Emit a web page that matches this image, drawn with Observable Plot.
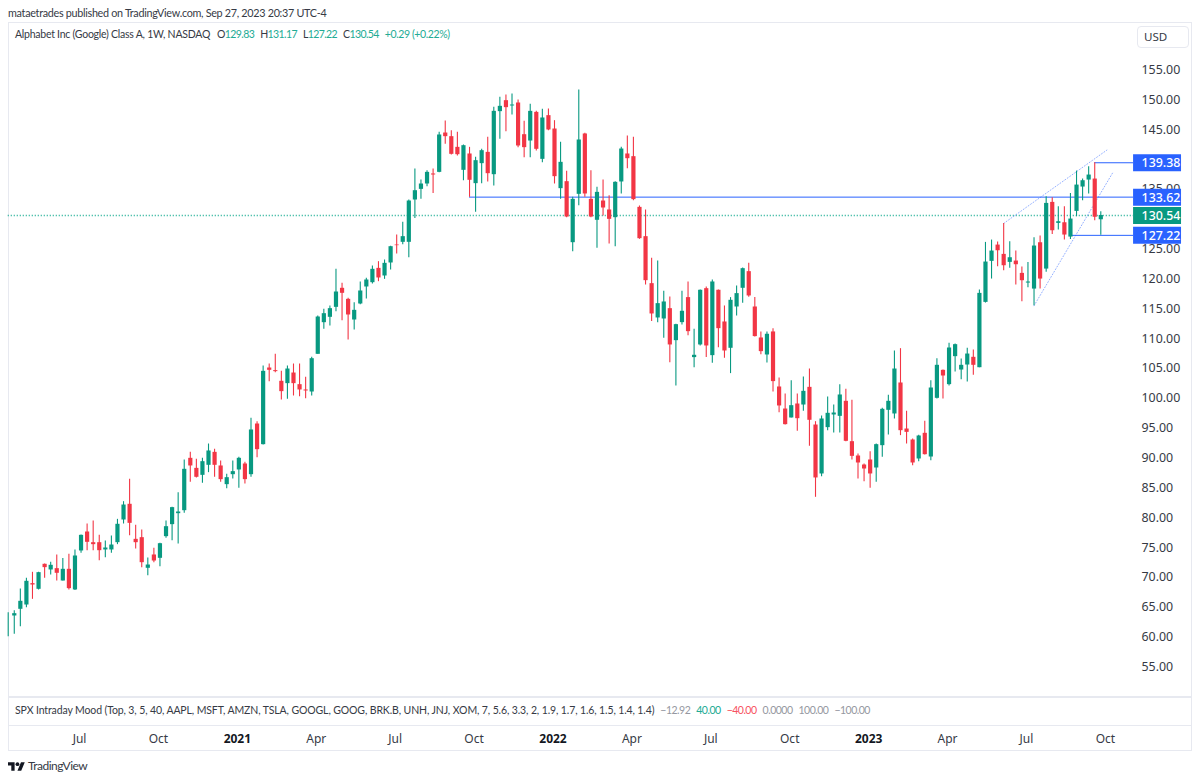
<!DOCTYPE html>
<html><head><meta charset="utf-8">
<script src="https://cdn.jsdelivr.net/npm/d3@7"></script>
<script src="https://cdn.jsdelivr.net/npm/@observablehq/plot@0.6"></script>
<style>
html,body{margin:0;padding:0;background:#fff;width:1200px;height:781px;overflow:hidden;font-family:"Lato",sans-serif;color:#131722}
#head{height:22px;line-height:26px;padding-left:8px;font-size:10.8px;letter-spacing:-.3px;color:#363a45;white-space:nowrap}
#stage{position:relative;height:729px}
#stage svg{position:absolute;left:0;top:0}
.ln{position:absolute;background:#E7E9F0}
.lg{position:absolute;left:15px;font-size:10.5px;color:#363a45;white-space:nowrap;z-index:2}
.lg i{font-style:normal;color:#22AB94}
#lg1{letter-spacing:-.25px}
#lg1 span{margin-left:6px;letter-spacing:-.6px}
#lg1 span:first-child{margin-left:7px}
#lg1 span:last-child{letter-spacing:-.4px}
#lg2{letter-spacing:-.12px}
#lg2 span{margin-left:6px;letter-spacing:-.5px}
#usd{position:absolute;left:1137px;top:4px;width:50px;height:20px;border:1px solid #E7E9F0;border-radius:4px;font-size:11.6px;line-height:20px;text-indent:6px;color:#363a45;z-index:2;box-sizing:content-box;background:#fff;font-family:"Noto Sans"}
#foot{height:30px;position:relative;font-size:12px;letter-spacing:-.5px;color:#363a45}
#foot svg{position:absolute;left:8px;top:11px}
#foot b{position:absolute;left:28px;top:7px;font-weight:400}
</style></head><body>
<div id="head">mataetrades published on TradingView.com, Sep 27, 2023 20:37 UTC-4</div>
<div id="stage">
  <div class="ln" style="left:8px;top:0;width:1184px;height:1px"></div>
  <div class="ln" style="left:8px;top:0;width:1px;height:729px"></div>
  <div class="ln" style="left:1191px;top:0;width:1px;height:729px"></div>
  <div class="ln" style="left:8px;top:674px;width:1184px;height:2px"></div>
  <div class="ln" style="left:8px;top:703px;width:1184px;height:1px"></div>
  <div class="ln" style="left:8px;top:728px;width:1184px;height:1px"></div>
  <div class="lg" id="lg1" style="top:6px">Alphabet Inc (Google) Class A, 1W, NASDAQ<span>O<i>129.83</i></span><span>H<i>131.17</i></span><span>L<i>127.22</i></span><span>C<i>130.54</i></span><span style="color:#22AB94">+0.29 (+0.22%)</span></div>
  <div class="lg" id="lg2" style="top:682px">SPX Intraday Mood (Top, 3, 5, 40, AAPL, MSFT, AMZN, TSLA, GOOGL, GOOG, BRK.B, UNH, JNJ, XOM, 7, 5.6, 3.3, 2, 1.9, 1.7, 1.6, 1.5, 1.4, 1.4)<span style="color:#9598A1">−12.92</span><span style="color:#22AB94">40.00</span><span style="color:#F7525F">−40.00</span><span style="color:#9598A1">0.0000</span><span style="color:#9598A1">100.00</span><span style="color:#9598A1">−100.00</span></div>
  <div id="usd">USD</div>
</div>
<div id="foot"><svg width="17" height="9" viewBox="0 4 36 18"><path fill="#131722" d="M14 22H7V11H0V4h14v18zM28 22h-8l7.5-18h8L28 22z"/><circle fill="#131722" cx="20" cy="8" r="4"/></svg><b>TradingView</b></div>
<script>
const firstWeek = "2020-04-13";
const opens = [62,63.46,64.58,65.30,68.88,67.93,72.12,71.17,71.39,69.32,71.28,67.82,74.35,77.53,75.74,75.74,74.52,74.52,75.74,79.54,82.17,76.30,76.58,71.45,73.68,73.12,76.75,78.76,80.6,81.1,89.87,88.19,87.02,88.70,90.87,88.59,85.46,87.13,87.92,88.92,87.13,95.62,92.16,105.0,104.56,102.77,102.38,104.16,102.21,101.32,100.98,107.29,112.59,113.49,115.16,118.35,116.50,113.04,115.72,118.57,119.29,121.69,120.41,122.59,125.6,126.05,126.05,133.14,134.92,135.82,137.5,137.77,144.36,143.75,141.96,138.11,140.85,135.88,139.23,141.12,137.38,147.94,149.78,148.89,149.39,144.08,143.02,147.82,139.95,147.27,145.03,135.04,136.21,125.99,134.09,144.20,133.25,129.74,132.97,131.47,130.18,136.16,140.85,140.40,131.91,127.0,119.13,113.38,113.21,114.94,109.58,112.6,116.79,106.74,108.86,118.29,107.07,118.02,112.71,108.30,115.22,118.35,121.14,115.22,110.03,107.18,111.04,101.82,98.13,96.63,98.97,98.80,101.76,95.45,87.25,95.01,97.13,96.9,99.42,92.66,90.26,88.75,89.59,88.25,91.99,97.91,97.3,102.49,94.78,92.94,89.76,94.06,90.09,99.92,104.61,102.21,106.9,104.66,105.5,106.79,105.05,115.99,122.86,125.59,124.03,122.69,122.91,120.85,119.23,118.22,125.98,121.57,132.74,129.22,129.33,126.93,131.23,135.31,136.48,136.65,129.83];
const closes = [62,63.85,65.92,69.27,68.65,70.72,71.56,71.95,70.61,71.28,68.04,73.51,76.97,75.80,75.41,74.40,74.85,75.35,78.82,82.05,78.98,75.74,72.39,72.0,72.67,75.57,78.42,81.61,80.88,88.03,88.59,86.69,89.31,91.10,88.70,86.30,86.63,87.64,89.87,86.30,94.62,91.32,104.44,104.61,104.39,101.04,104.83,102.38,101.32,101.15,106.56,113.54,114.10,114.94,117.73,117.51,113.88,114.66,117.9,119.74,121.53,120.08,122.53,125.32,125.49,127.0,132.97,134.7,135.82,137.77,137.33,144.03,143.75,140.79,140.73,142.24,136.44,139.73,141.40,137.55,147.99,148.83,148.61,149.05,142.19,141.91,147.99,141.63,146.88,144.87,137.05,139.45,130.29,133.25,143.19,134.15,130.29,134.42,131.80,129.90,136.1,141.68,140.06,133.20,126.66,119.63,114.05,115.78,116.06,108.86,112.26,114.5,111.09,107.13,118.02,108.69,119.41,111.59,107.85,116.34,117.46,121.64,117.07,110.26,107.74,110.65,102.72,98.64,95.51,98.69,96.51,101.09,96.24,86.58,96.46,97.41,97.46,100.48,92.72,90.2,89.09,88.08,87.25,92.16,98.08,99.42,104.83,94.5,94.22,89.09,93.61,90.48,101.65,105.45,103.66,108.35,108.91,105.45,107.34,105.45,117.5,122.75,124.59,124.64,122.13,123.47,122.3,119.62,119.4,125.43,119.9,132.57,127.99,129.5,127.27,129.95,135.64,136.37,137.32,130.25,130.54];
const highs = [64.0,64.35,67.98,69.77,70.78,70.78,72.17,72.45,73.68,73.07,73.79,74.52,77.03,78.87,79.37,76.97,76.02,76.86,79.65,82.61,86.35,78.65,77.87,73.18,74.79,75.63,79.37,81.66,84.12,89.59,90.87,89.70,89.87,92.27,91.38,89.42,87.19,89.42,90.04,89.20,96.57,96.0,105.34,105.67,107.29,104.44,105.34,105.67,105.67,103.44,106.79,113.71,114.83,115.39,121.53,119.18,116.67,115.94,119.41,120.02,122.09,122.81,123.09,125.38,127.28,129.4,133.14,138.33,136.49,138.05,138.33,144.47,146.37,144.75,144.47,142.35,141.96,140.29,141.63,143.64,148.66,150.34,150.73,150.9,149.89,146.32,149.16,147.99,148.33,148.38,146.43,142.8,137.94,133.59,151.57,144.31,138.05,135.26,136.49,133.87,136.21,141.96,143.86,143.64,132.14,131.47,123.37,122.93,117.85,116.9,112.32,117.85,119.41,111.48,118.07,118.57,119.75,118.07,115.39,116.79,118.74,121.76,122.54,116.79,111.04,111.04,111.59,103.33,100.65,102.88,100.65,103.49,104.83,96.01,96.96,100.14,98.8,102.21,101.43,99.58,90.6,88.92,90.99,92.27,98.24,100.42,107.85,108.24,97.74,93.11,93.72,96.07,102.88,106.56,104.66,109.13,109.02,106.51,108.29,108.01,118.06,126.04,126.43,126.1,129.22,126.15,124.59,121.91,122.69,126.82,127.1,133.69,133.52,132.01,132.01,134.25,137.99,136.65,138.71,139.38,131.17];
const lows = [60.0,60.39,61.67,64.86,66.25,67.82,69.77,70.33,69.32,69.32,67.82,67.71,73.96,74.40,74.40,72.73,73.23,73.96,75.41,78.87,76.92,74.68,71.56,70.22,72.39,71.72,76.47,76.08,75.52,80.66,85.85,86.58,85.68,87.47,86.69,85.85,84.79,86.41,84.84,85.57,86.69,89.98,92.1,102.71,104.22,99.64,99.75,100.31,100.2,99.87,100.31,107.29,111.48,112.04,114.44,112.93,109.69,111.37,115.61,116.56,119.07,119.46,119.85,121.42,124.1,125.66,123.48,130.06,133.25,135.37,134.25,137.72,142.46,140.68,140.51,136.38,133.59,131.07,135.88,136.16,135.49,143.3,144.59,147.38,141.91,140.23,140.23,141.35,139.39,144.75,135.82,133.25,130.18,124.49,132.19,133.59,130.18,125.05,130.46,125.77,125.33,134.15,138.39,133.03,126.55,118.91,112.77,112.6,109.97,105.9,102.0,112.21,110.42,105.06,108.69,106.74,105.79,108.41,106.63,104.06,113.72,115.84,116.84,110.20,107.24,105.84,100.99,97.52,95.45,96.63,94.39,97.74,91.88,83.34,86.8,94.5,94.11,94.11,92.66,89.59,86.41,85.96,84.85,85.85,90.04,93.78,96.46,93.67,92.27,88.64,89.31,90.43,89.48,99.81,99.81,101.99,104.33,103.05,102.66,103.77,105.05,115.88,119.9,121.96,121.29,121.69,118.89,116.1,118.45,115.43,118.22,121.02,127.38,128.1,126.43,126.54,130.34,133.02,134.14,129.67,127.22];
// 130.00 and 140.00 sit fully behind the price tags in the reference, so they are not listed
const priceTicks = [55,60,65,70,75,80,85,90,95,100,105,110,115,120,125,135,145,150,155];
const monthTicks = [["2020-07-06","Jul"],["2020-10-05","Oct"],["2021-04-05","Apr"],["2021-07-05","Jul"],["2021-10-04","Oct"],["2022-04-04","Apr"],["2022-07-04","Jul"],["2022-10-03","Oct"],["2023-04-03","Apr"],["2023-07-03","Jul"],["2023-10-02","Oct"]];
const yearTicks = [["2021-01-04","2021"],["2022-01-03","2022"],["2023-01-02","2023"]];
const levelPrices = [139.38, 133.62, 127.22];
const levelStarts = [179, 76, 175];
const lastPrice = 130.54;
const wedgeUpperIdx = [164, 181], wedgeUpperPx = [129.22, 141.5];
const wedgeLowerIdx = [169, 182], wedgeLowerPx = [115.43, 137.77];
const UP = "#089981", DOWN = "#F23645", BLUE = "#2962FF";

const WEEK = 7*864e5, t0 = Date.parse(firstWeek+"T00:00:00Z");
const dateAt = i => new Date(t0 + i*WEEK);
const lastIdx = opens.length-1;
const tagStart = 185.4, tagEnd = 193.3;   // price tags live just past the plot's right edge
const candles = opens.map((o,i)=>({d:dateAt(i),o,c:closes[i],h:highs[i],l:lows[i],col:closes[i]>=o?UP:DOWN}));
const toMap = a => new Map(a.map(([d,l])=>[Date.parse(d+"T00:00:00Z"),l]));
const mMap = toMap(monthTicks), yMap = toMap(yearTicks);
const FONT = "Noto Sans";

const chart = Plot.plot({
  width:1200, height:729,
  marginLeft:8, marginRight:67, marginTop:0, marginBottom:20,
  style:{background:"transparent",fontFamily:FONT,overflow:"visible"},
  x:{type:"utc",domain:[dateAt(0),dateAt(lastIdx)],range:[7.7,1100.3]},
  y:{type:"linear",domain:[55,155],range:[644,47]},
  marks:[
    Plot.axisY({anchor:"right",ticks:priceTicks,tickSize:0,tickPadding:8,tickFormat:d3.format(".2f"),fontSize:12.4,fill:"#363a45",label:null,dy:0.5}),
    Plot.axisX({ticks:monthTicks.map(m=>new Date(m[0]+"T00:00:00Z")),tickSize:0,tickPadding:3,dx:-1.5,tickFormat:d=>mMap.get(+d),fontSize:12,fill:"#363a45",label:null}),
    Plot.axisX({ticks:yearTicks.map(m=>new Date(m[0]+"T00:00:00Z")),tickSize:0,tickPadding:3,dx:-1.5,tickFormat:d=>yMap.get(+d),fontSize:12,fontWeight:700,fill:"#131722",label:null}),
    Plot.ruleY([lastPrice],{x1:dateAt(0),x2:dateAt(tagStart),stroke:"#1FAF95",strokeWidth:1.4,strokeDasharray:"1.2,1.8",strokeOpacity:.85}),
    Plot.line(wedgeUpperIdx.map((i,k)=>({d:dateAt(i),p:wedgeUpperPx[k]})),{x:"d",y:"p",stroke:BLUE,strokeOpacity:.5,strokeWidth:1,strokeDasharray:"1,2"}),
    Plot.line(wedgeLowerIdx.map((i,k)=>({d:dateAt(i),p:wedgeLowerPx[k]})),{x:"d",y:"p",stroke:BLUE,strokeOpacity:.5,strokeWidth:1,strokeDasharray:"1,2"}),
    Plot.ruleY(levelPrices.map((p,k)=>({p,s:dateAt(levelStarts[k])})),{y:"p",x1:"s",x2:()=>dateAt(tagStart),stroke:BLUE,strokeWidth:1}),
    Plot.ruleX(candles,{x:"d",y1:"l",y2:"h",stroke:"col",strokeWidth:1.1}),
    Plot.ruleX(candles,{x:"d",y1:"o",y2:"c",stroke:"col",strokeWidth:4.2}),
    Plot.ruleY(levelPrices,{y:d=>d,x1:()=>dateAt(tagStart),x2:()=>dateAt(tagEnd),stroke:BLUE,strokeWidth:17}),
    Plot.ruleY([lastPrice],{y:d=>d,x1:()=>dateAt(tagStart),x2:()=>dateAt(tagEnd),stroke:UP,strokeWidth:17}),
    Plot.text([...levelPrices,lastPrice],{x:()=>dateAt(tagStart),y:d=>d,dx:8,dy:0.5,text:d=>d.toFixed(2),textAnchor:"start",fill:"#fff",fontSize:12.4,fontWeight:500})
  ]
});
document.getElementById("stage").appendChild(chart);
</script>
</body></html>
